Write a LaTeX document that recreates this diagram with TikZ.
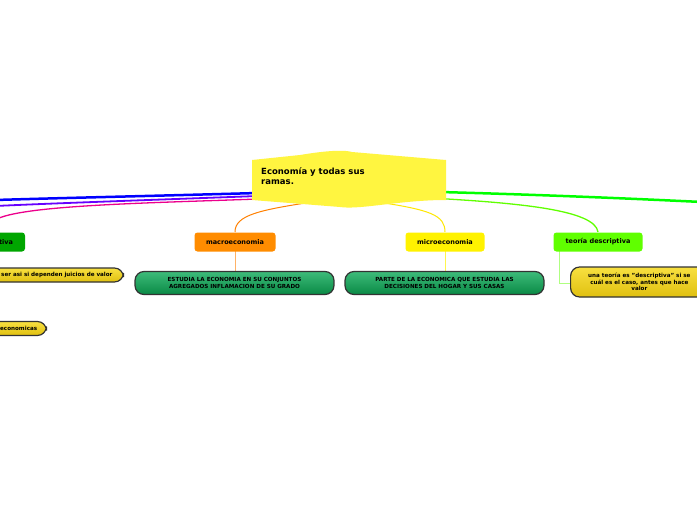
\documentclass[tikz,border=0pt]{standalone}
\usepackage{fontspec}
\setmainfont{DejaVu Sans}
\definecolor{gtop}{HTML}{3DBB7A}
\definecolor{gbot}{HTML}{0A8A45}
\definecolor{ytop}{HTML}{F8E040}
\definecolor{ybot}{HTML}{E0C010}
\begin{document}
\begin{tikzpicture}[x=1pt,y=-1pt,
 lbl/.style={rounded corners=3pt,font=\bfseries\fontsize{6.5}{7}\selectfont,inner sep=0pt,minimum height=19pt,anchor=center},
 pill/.style={draw=black!80,line width=1.2pt,rounded corners=9pt,font=\bfseries\fontsize{5.6}{6.6}\selectfont,align=center,inner sep=0pt,minimum height=23pt},
 gpill/.style={pill,top color=gtop,bottom color=gbot},
 ypill/.style={pill,top color=ytop,bottom color=ybot},
 ptext/.style={font=\bfseries\fontsize{5.6}{6.6}\selectfont,align=center,inner sep=0pt}]
\useasboundingbox (0,0) rectangle (697,520);
\clip (0,0) rectangle (697,520);
\fill[white] (0,0) rectangle (697,520);
% connectors
\draw[blue,line width=2.5pt] (258,193) .. controls (150,196) and (60,198) .. (-5,200);
\draw[blue!60!magenta,line width=1.8pt] (258,196) .. controls (150,200) and (60,203) .. (-5,206);
\draw[magenta,line width=1.3pt] (258,199) .. controls (150,203) and (20,205) .. (-5,220);
\draw[green,line width=2.5pt] (440,192) .. controls (550,195) and (640,199) .. (702,202);
\draw[green!50!lime,line width=1.3pt] (430,198) .. controls (520,203) and (595,210) .. (598,232);
\draw[orange,line width=1pt] (312,202) .. controls (260,210) and (235,215) .. (235,232);
\draw[yellow!90!orange,line width=1pt] (378,202) .. controls (430,210) and (445,215) .. (445,232);
\draw[orange!60,line width=0.8pt] (235,251) -- (235,271);
\draw[yellow!70,line width=0.8pt] (445,251) -- (445,271);
\draw[green!50!lime!50,line width=0.8pt] (559,251) -- (559,283) -- (570,283);
% central
\fill[yellow!75!white] (252,160) -- (300,155) .. controls (330,150) and (345,150) .. (352,152) -- (446,160) -- (446,200) .. controls (400,200) and (360,210) .. (340,207) -- (252,200) -- cycle;
\node[font=\bfseries\fontsize{8.5}{10.5}\selectfont,align=left,anchor=north west,inner sep=0pt] (root) at (261,167) {Economía y todas sus\\ramas.};
% labels
\node[lbl,fill=green!65!black,minimum width=66pt] (norm) at (-8,242) {\hspace*{28pt}tiva};
\node[lbl,fill=orange!90!yellow,minimum width=81pt] (macro) at (235,242) {macroeconomia};
\node[lbl,fill=yellow,minimum width=79pt] (micro) at (445,242) {microeconomia};
\node[lbl,fill=green!50!lime,minimum width=89pt] (teo) at (598,242) {teoría descriptiva};
% pills
\node[gpill,minimum width=199pt] (est) at (234.5,283) {ESTUDIA LA ECONOMIA EN SU CONJUNTOS\\AGREGADOS INFLAMACION DE SU GRADO};
\node[gpill,minimum width=199pt] (par) at (444.5,283) {PARTE DE LA ECONOMICA QUE ESTUDIA LAS\\DECISIONES DEL HOGAR Y SUS CASAS};
\node[ypill,minimum height=14pt,minimum width=160pt,anchor=east] (jui) at (124,275) {};
\node[ptext,anchor=west] (juit) at (1,275) {ser asi si dependen juicios de valor};
\node[ypill,minimum height=14pt,minimum width=80pt,anchor=east] (eco) at (47,328.5) {};
\node[ptext,anchor=west] (ecot) at (0,328.5) {economicas};
\node[ypill,minimum height=30pt,minimum width=180pt,anchor=west] (des) at (570,282) {};
\node[ptext,anchor=west] (dest) at (588,282) {una teoría es "descriptiva" si se\\cuál es el caso, antes que hace\\valor};
\end{tikzpicture}
\end{document}
